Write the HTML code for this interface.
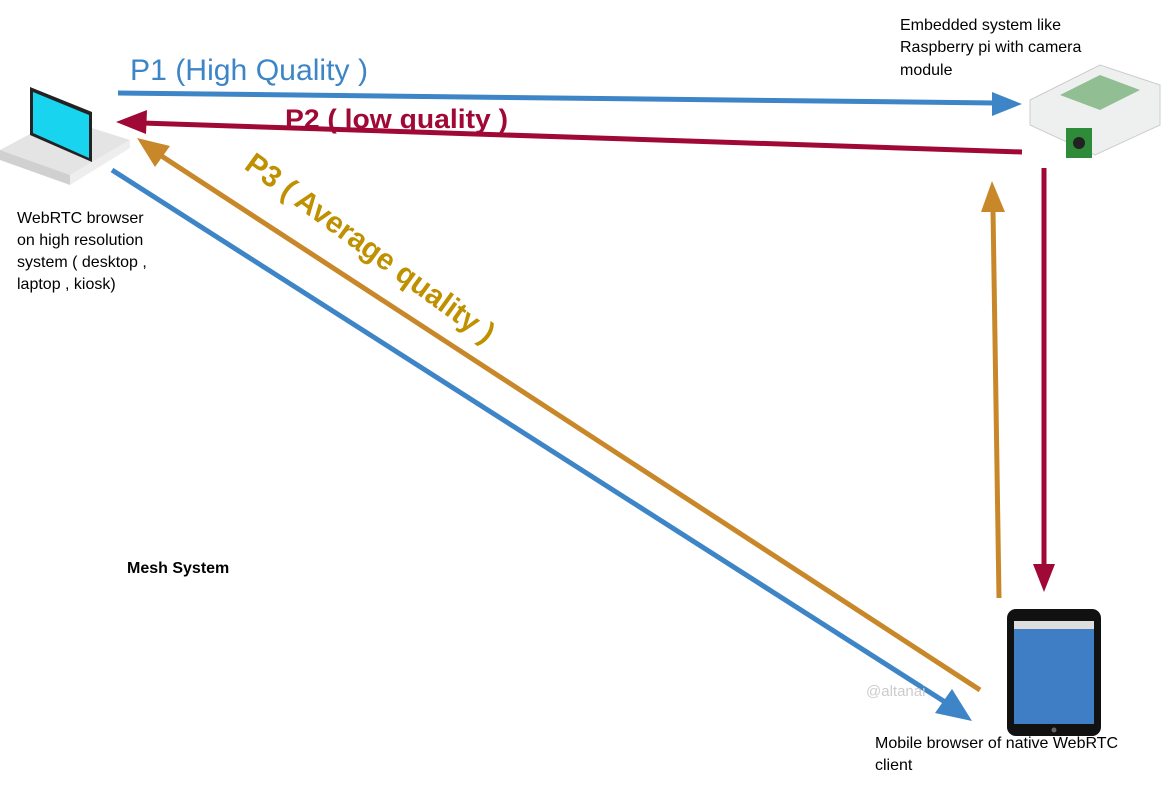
<!DOCTYPE html>
<html><head><meta charset="utf-8"><style>
html,body{margin:0;padding:0;background:#fff;}
svg{display:block;font-family:"Liberation Sans",sans-serif;}
</style></head><body>
<svg width="1175" height="787" viewBox="0 0 1175 787">
<!-- laptop -->
<polygon points="0,150 60,118 130,140 70,175" fill="#e4e4e4"/>
<polygon points="0,150 70,175 70,185 0,160" fill="#d0d0d0"/>
<polygon points="70,175 130,140 130,148 70,185" fill="#eee"/>
<polygon points="30,87 92,112 92,162 30,135" fill="#222"/>
<polygon points="33,92 89,115 89,158 33,133" fill="#19d4ef"/>
<!-- pi -->
<polygon points="1030,100 1100,65 1160,85 1160,125 1095,155 1030,125" fill="#eef0f0" stroke="#ccc"/>
<polygon points="1060,95 1100,75 1140,90 1100,110" fill="#6aa86a" opacity="0.7"/>
<rect x="1066" y="128" width="26" height="30" fill="#2e8b3a"/>
<circle cx="1079" cy="143" r="6" fill="#222"/>
<!-- tablet -->
<rect x="1007" y="609" width="94" height="127" rx="9" fill="#111"/>
<rect x="1014" y="621" width="80" height="103" fill="#3f7ec4"/>
<rect x="1014" y="621" width="80" height="8" fill="#ddd"/>
<circle cx="1054" cy="730" r="2.5" fill="#666"/>
<!-- lines -->
<g stroke-width="5" fill="none">
<line x1="118" y1="93" x2="995" y2="103" stroke="#3d85c6"/>
<line x1="1022" y1="152" x2="142" y2="123" stroke="#a00835"/>
<line x1="980" y1="690" x2="160" y2="155" stroke="#c8882a"/>
<line x1="112" y1="170" x2="945" y2="702" stroke="#3d85c6"/>
<line x1="999" y1="598" x2="993" y2="210" stroke="#c8882a"/>
<line x1="1044" y1="168" x2="1044" y2="568" stroke="#a00835"/>
</g>
<polygon points="1022,104 992,92 992,116" fill="#3d85c6"/>
<polygon points="116,122 147,110 146,134" fill="#a00835"/>
<polygon points="137,138 170,146 155,167" fill="#c8882a"/>
<polygon points="972,721 935,713 952,689" fill="#3d85c6"/>
<polygon points="992,181 981,212 1005,212" fill="#c8882a"/>
<polygon points="1044,592 1033,564 1055,564" fill="#a00835"/>
<!-- text -->
<text x="130" y="80" font-size="30" fill="#3d85c6" textLength="238" lengthAdjust="spacingAndGlyphs">P1 (High Quality )</text>
<text x="285" y="128" font-size="27" fill="#a00835" font-weight="bold" textLength="223" lengthAdjust="spacingAndGlyphs">P2 ( low quality )</text>
<text x="0" y="0" font-size="30" fill="#bf9000" font-weight="bold" transform="translate(243,168) rotate(36)" textLength="300" lengthAdjust="spacingAndGlyphs">P3 ( Average quality )</text>
<g font-size="16" fill="#000">
<text x="17" y="223">WebRTC browser</text>
<text x="17" y="245">on high resolution</text>
<text x="17" y="267">system ( desktop ,</text>
<text x="17" y="289">laptop , kiosk)</text>
<text x="900" y="30">Embedded system like</text>
<text x="900" y="52">Raspberry pi with camera</text>
<text x="900" y="75">module</text>
<text x="875" y="748">Mobile browser of native WebRTC</text>
<text x="875" y="770">client</text>
<text x="127" y="573" font-weight="bold">Mesh System</text>
</g>
<text x="866" y="696" font-size="15" fill="#ccc">@altanai</text>
</svg>
</body></html>
